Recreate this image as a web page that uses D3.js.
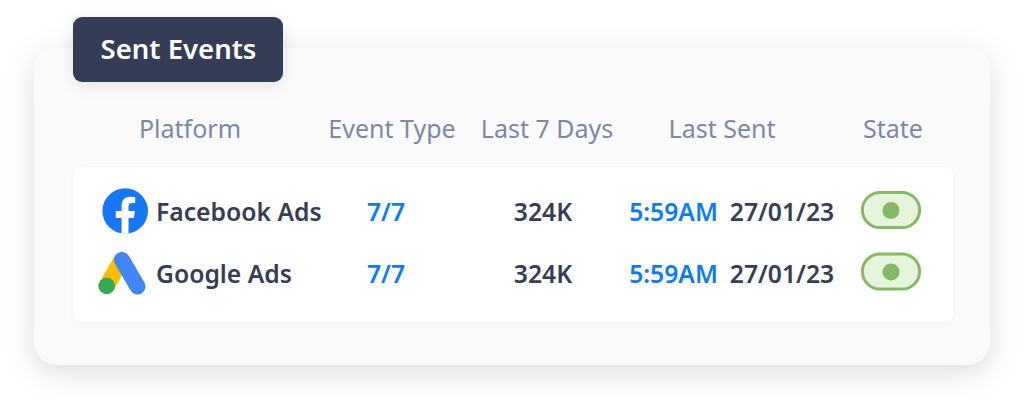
<!DOCTYPE html>
<html>
<head>
<meta charset="utf-8">
<script src="https://cdn.jsdelivr.net/npm/d3@7"></script>
<style>
  html, body { margin: 0; background: #fff; }
  text { font-family: "Noto Sans", sans-serif; }
</style>
</head>
<body>
<div id="chart"></div>
<script>
// table content
var title = "Sent Events";
var columns = ["Platform", "Event Type", "Last 7 Days", "Last Sent", "State"];
var platforms = ["Facebook Ads", "Google Ads"];
var eventTypes = ["7/7", "7/7"];
var last7Days = ["324K", "324K"];
var sentTimes = ["5:59AM", "5:59AM"];
var sentDates = ["27/01/23", "27/01/23"];
var states = [true, true];

var width = 1024, height = 405;

var svg = d3.select("#chart").append("svg")
    .attr("width", width)
    .attr("height", height)
    .style("display", "block");

var defs = svg.append("defs");

function shadow(id, dy, blur, opacity) {
  var f = defs.append("filter").attr("id", id)
      .attr("x", "-20%").attr("y", "-30%")
      .attr("width", "140%").attr("height", "170%");
  f.append("feDropShadow")
      .attr("dx", 0).attr("dy", dy)
      .attr("stdDeviation", blur)
      .attr("flood-color", "#000")
      .attr("flood-opacity", opacity);
}
shadow("panelShadow", 7, 15, 0.14);
shadow("cardShadow", 1, 2, 0.04);
shadow("tabShadow", 3, 8, 0.1);

// column and row positions
var x = d3.scaleOrdinal().domain(columns).range([190, 392, 547, 722, 893]);
var y = d3.scalePoint().domain(d3.range(platforms.length)).range([211, 272]);
var textY = d3.scalePoint().domain(d3.range(platforms.length)).range([220.5, 282.5]);

// panel, white card, title tab
svg.append("rect")
    .attr("x", 34).attr("y", 48)
    .attr("width", 956).attr("height", 317)
    .attr("rx", 24)
    .attr("fill", "#fafafa")
    .attr("filter", "url(#panelShadow)");

svg.append("rect")
    .attr("x", 73).attr("y", 167)
    .attr("width", 880).attr("height", 155)
    .attr("rx", 8)
    .attr("fill", "#fff")
    .attr("filter", "url(#cardShadow)");

svg.append("rect")
    .attr("x", 73).attr("y", 17)
    .attr("width", 210).attr("height", 65)
    .attr("rx", 9)
    .attr("fill", "#363e56")
    .attr("filter", "url(#tabShadow)");

svg.append("text")
    .attr("x", 178.5).attr("y", 59)
    .attr("text-anchor", "middle")
    .attr("font-size", 27.5)
    .attr("font-weight", 600)
    .attr("fill", "#fff")
    .text(title);

// header
svg.selectAll("text.head")
  .data(columns)
  .join("text")
    .attr("class", "head")
    .attr("x", function(d) { return x(d); })
    .attr("y", 138)
    .attr("text-anchor", "middle")
    .attr("font-size", 25)
    .attr("fill", "#7b88ab")
    .text(function(d) { return d; });

// rows
var dark = "#363e56", blue = "#0d7bf5";

function cell(values, cx, color, anchor) {
  svg.append("g").selectAll("text")
    .data(values)
    .join("text")
      .attr("x", cx)
      .attr("y", function(d, i) { return textY(i); })
      .attr("text-anchor", anchor || "middle")
      .attr("font-size", 24.7)
      .attr("font-weight", 600)
      .attr("fill", color)
      .text(function(d) { return d; });
}

cell(platforms, 156, dark, "start");
cell(eventTypes, 386, blue);
cell(last7Days, 543, dark);
cell(sentTimes, 673.5, blue);
cell(sentDates, 782, dark);

// facebook icon
var fb = svg.append("g").attr("transform", "translate(125.2," + y(0) + ")");
fb.append("circle").attr("r", 22.8).attr("fill", "#1877f2");
fb.append("path")
    .attr("fill", "#fff")
    .attr("d", "M-3.6 22.8V7H-9.4V0H-3.6V-5.2C-3.6-11-0.2-14.2 5.1-14.2C7.6-14.2 10-13.8 10-13.8V-8H7C4.2-8 3.3-6.3 3.3-4.5V0H9.7L8.6 7H3.3V22.8Z");

// google ads icon
var ga = svg.append("g").attr("transform", "translate(0," + (y(1) - 272) + ")");
ga.append("line")
    .attr("x1", 106.7).attr("y1", 286).attr("x2", 122).attr("y2", 259)
    .attr("stroke", "#fbbc04").attr("stroke-width", 16);
ga.append("line")
    .attr("x1", 122).attr("y1", 260).attr("x2", 137.5).attr("y2", 286.5)
    .attr("stroke", "#4285f4").attr("stroke-width", 16)
    .attr("stroke-linecap", "round");
ga.append("circle")
    .attr("cx", 106.7).attr("cy", 286).attr("r", 8.3)
    .attr("fill", "#34a853");

// state toggles
var toggles = svg.append("g").selectAll("g")
  .data(states)
  .join("g")
    .attr("transform", function(d, i) {
      return "translate(891," + (y(i) - 1 + i * 0.5) + ")";
    });

toggles.append("rect")
    .attr("x", -28.6).attr("y", -17.6)
    .attr("width", 57.2).attr("height", 35.2)
    .attr("rx", 17.6)
    .attr("fill", "#e5f4dc")
    .attr("stroke", "#86b963")
    .attr("stroke-width", 3);

toggles.append("circle")
    .attr("cx", 0).attr("cy", 0.5).attr("r", 8.5)
    .attr("fill", "#86b963");
</script>
</body>
</html>
